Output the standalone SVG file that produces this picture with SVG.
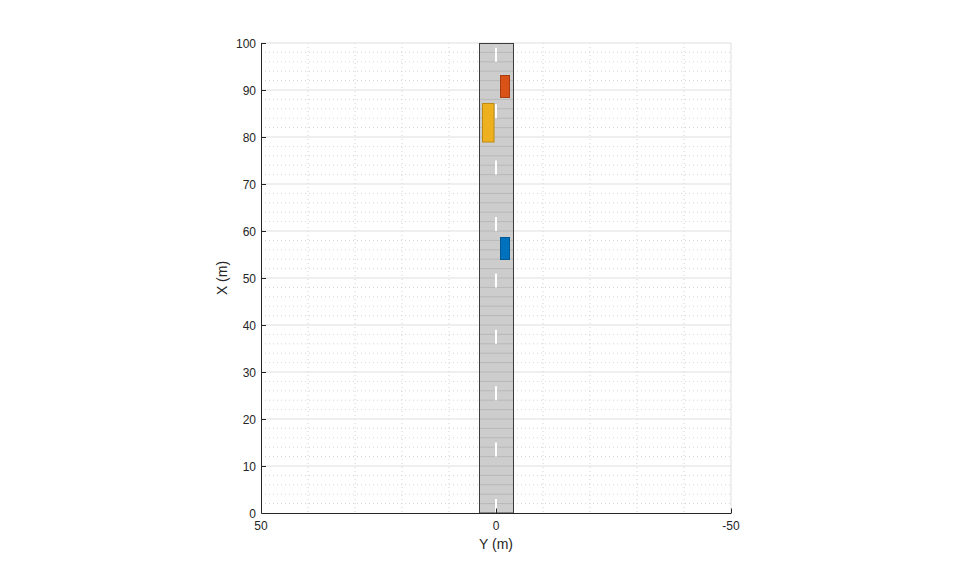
<svg xmlns="http://www.w3.org/2000/svg" width="959" height="577" viewBox="0 0 959 577">
<style>
.maj{stroke:#dfdfdf;stroke-width:1;fill:none}
.min{stroke:#d4d4d4;stroke-width:1;stroke-dasharray:1 3;fill:none}
.rl{stroke:#b8b8b8;stroke-width:1}
.dash{stroke:#ffffff;stroke-width:2}
.ax{stroke:#262626;stroke-width:1;fill:none}
.t{font-family:"Liberation Sans",Arial,sans-serif;font-size:12px;fill:#262626}
.lab{font-family:"Liberation Sans",Arial,sans-serif;font-size:14px;fill:#262626}
</style>
<rect width="959" height="577" fill="#ffffff"/>
<g id="grid">
<path class="min" d="M261 52.4H731M261 61.8H731M261 71.2H731M261 80.6H731M261 99.4H731M261 108.8H731M261 118.2H731M261 127.6H731M261 146.4H731M261 155.8H731M261 165.2H731M261 174.6H731M261 193.4H731M261 202.8H731M261 212.2H731M261 221.6H731M261 240.4H731M261 249.8H731M261 259.2H731M261 268.6H731M261 287.4H731M261 296.8H731M261 306.2H731M261 315.6H731M261 334.4H731M261 343.8H731M261 353.2H731M261 362.6H731M261 381.4H731M261 390.8H731M261 400.2H731M261 409.6H731M261 428.4H731M261 437.8H731M261 447.2H731M261 456.6H731M261 475.4H731M261 484.8H731M261 494.2H731M261 503.6H731"/>
<path class="min" d="M308 43V513M355 43V513M402 43V513M449 43V513M543 43V513M590 43V513M637 43V513M684 43V513"/>
<path class="maj" d="M261 43H731M261 90H731M261 137H731M261 184H731M261 231H731M261 278H731M261 325H731M261 372H731M261 419H731M261 466H731M731 43V513M496 43V513"/>
</g>
<g id="road">
<rect x="479.5" y="43.5" width="34" height="469.5" fill="#cdcdcd"/>
<path class="rl" d="M480 52.4H513M480 61.8H513M480 71.2H513M480 80.6H513M480 90H513M480 99.4H513M480 108.8H513M480 118.2H513M480 127.6H513M480 137H513M480 146.4H513M480 155.8H513M480 165.2H513M480 174.6H513M480 184H513M480 193.4H513M480 202.8H513M480 212.2H513M480 221.6H513M480 231H513M480 240.4H513M480 249.8H513M480 259.2H513M480 268.6H513M480 278H513M480 287.4H513M480 296.8H513M480 306.2H513M480 315.6H513M480 325H513M480 334.4H513M480 343.8H513M480 353.2H513M480 362.6H513M480 372H513M480 381.4H513M480 390.8H513M480 400.2H513M480 409.6H513M480 419H513M480 428.4H513M480 437.8H513M480 447.2H513M480 456.6H513M480 466H513M480 475.4H513M480 484.8H513M480 494.2H513M480 503.6H513"/>
<path class="dash" d="M496 499V513M496 442.6V456.6M496 386.2V400.2M496 329.8V343.8M496 273.4V287.4M496 217V231M496 160.6V174.6M496 104.2V118.2M496 47.8V61.8"/>
<rect x="479.5" y="43.5" width="34" height="469.5" fill="none" stroke="#3c3c3c" stroke-width="1"/>
</g>
<g id="vehicles">
<rect id="car-orange" x="500.5" y="75.5" width="9" height="22" fill="#D95319" stroke="#a83e12" stroke-width="1"/>
<rect id="car-yellow" x="482.5" y="103.5" width="11.5" height="38.5" fill="#EDB120" stroke="#c08a10" stroke-width="1"/>
<rect id="car-blue" x="500.5" y="237.5" width="9" height="22" fill="#0072BD" stroke="#005a96" stroke-width="1"/>
</g>
<g id="axes">
<path class="ax" d="M261.5 43V513.5H731.5"/>
<path class="ax" d="M261.5 43.5H266M261.5 90.5H266M261.5 137.5H266M261.5 184.5H266M261.5 231.5H266M261.5 278.5H266M261.5 325.5H266M261.5 372.5H266M261.5 419.5H266M261.5 466.5H266M496.5 513V508.5M731.5 513V508.5"/>
<g class="t" text-anchor="end">
<text x="256" y="48">100</text>
<text x="256" y="95">90</text>
<text x="256" y="142">80</text>
<text x="256" y="189">70</text>
<text x="256" y="236">60</text>
<text x="256" y="283">50</text>
<text x="256" y="330">40</text>
<text x="256" y="377">30</text>
<text x="256" y="424">20</text>
<text x="256" y="471">10</text>
<text x="256" y="518">0</text>
</g>
<g class="t" text-anchor="middle">
<text x="261" y="530">50</text>
<text x="496" y="530">0</text>
<text x="731" y="530">-50</text>
</g>
<text class="lab" x="496" y="549" text-anchor="middle">Y (m)</text>
<text class="lab" x="227" y="278" text-anchor="middle" transform="rotate(-90 227 278)">X (m)</text>
</g>
</svg>
